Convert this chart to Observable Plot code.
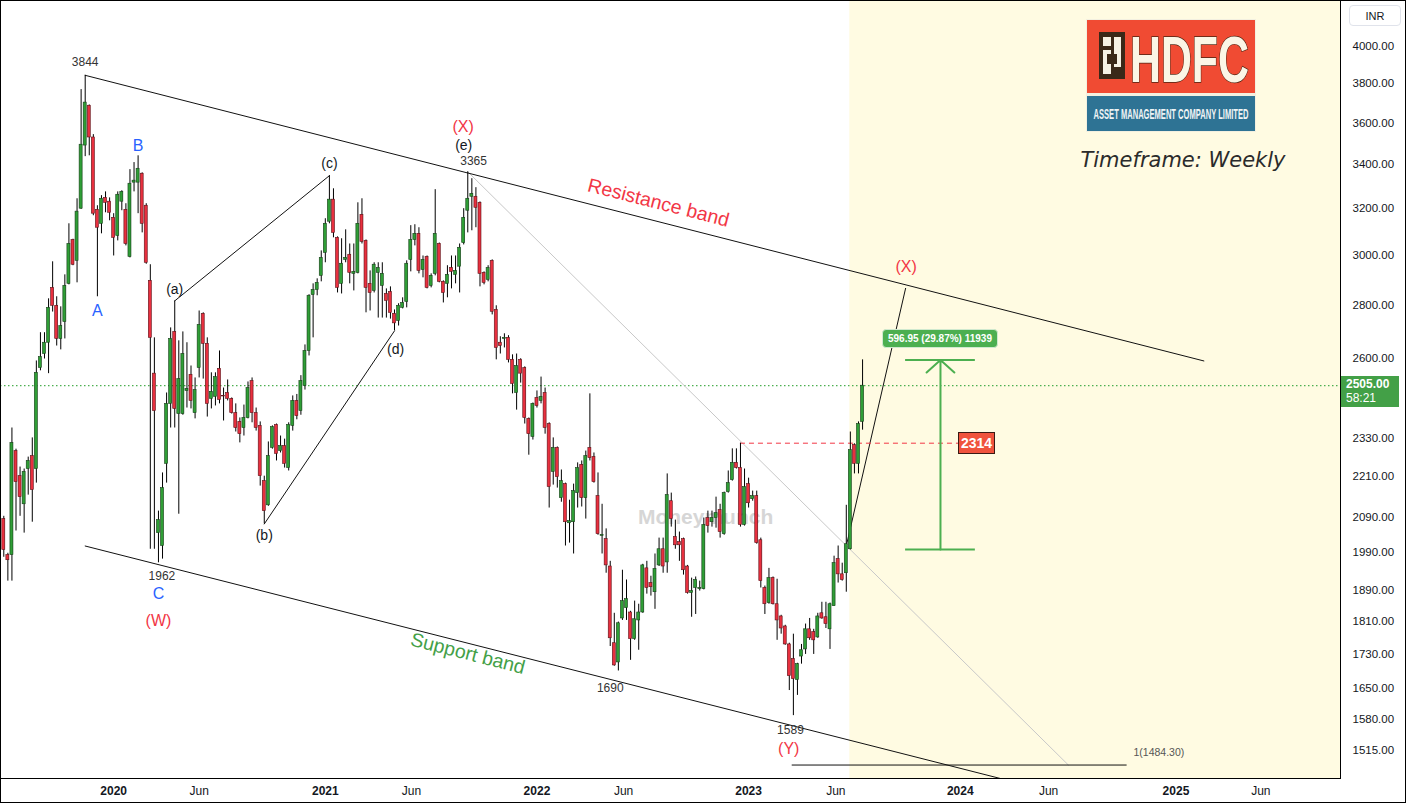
<!DOCTYPE html>
<html><head><meta charset="utf-8">
<script src="https://cdn.jsdelivr.net/npm/d3@7"></script>
<script src="https://cdn.jsdelivr.net/npm/@observablehq/plot@0.6"></script>
<style>
html,body{margin:0;padding:0;background:#fff;}
#chart{position:relative;width:1406px;height:803px;overflow:hidden;font-family:'Liberation Sans',Arial,sans-serif;}
#chart svg{display:block;}
.ov{position:absolute;box-sizing:border-box;}
</style></head><body><div id="chart"></div>
<script>
// ---------------- DATA ----------------
const candleStart = "2019-07-01"; // first weekly bar (Monday)
const open = [
2084,1983,1983,2289,2211,2127,2233,2273,2233,2567,
2617,2658,2867,2797,2672,2735,2883,3063,2976,3198,
3489,3686,3528,3193,3132,3246,3229,3158,3080,3229,
3193,2992,3315,3315,3356,3211,2895,2547,2044,2008,
2249,2443,2698,2409,2409,2487,2543,2412,2567,2766,
2654,2460,2467,2564,2470,2480,2460,2412,2383,2363,
2396,2521,2412,2370,2196,2124,2299,2373,2289,2305,
2236,2370,2453,2419,2504,2628,2839,2859,2915,3009,
3141,3238,3072,2883,2980,3001,2923,2927,3171,3059,
2883,2855,2927,2875,2843,2851,2766,2739,2789,2812,
2980,3063,3089,2939,2992,2875,2923,3046,2891,2883,
2947,2919,2952,3050,3189,3251,3251,3224,2927,2899,
2976,2781,2658,2672,2676,2596,2480,2596,2567,2393,
2334,2463,2453,2480,2376,2224,2299,2145,2187,2072,
2075,2160,2246,2145,2299,2270,2151,2036,2027,1952,
1756,1710,1817,1843,1832,1766,1812,1832,1947,1908,
1884,1955,1999,1963,2136,2033,2019,2027,1952,1882,
1895,1892,1892,2087,2075,2087,2110,2041,2163,2199,
2252,2236,2067,2187,2142,2151,2024,1895,1856,1921,
1853,1822,1797,1753,1718,1669,1724,1741,1790,1783,
1770,1830,1820,1790,1848,1972,1931,1934,1999,2308,
2249,2383];
const high = [
2092,1988,2363,2295,2239,2233,2270,2331,2592,2695,
2695,2824,2972,2832,2793,2919,3132,3066,3242,3769,
3844,3690,3542,3211,3256,3273,3246,3176,3273,3278,
3220,3375,3408,3440,3360,3220,2960,2676,2107,2221,
2480,2713,2816,2665,2698,2658,2574,2532,2777,2770,
2676,2550,2550,2628,2497,2525,2463,2443,2396,2439,
2518,2532,2429,2383,2211,2318,2370,2376,2337,2327,
2380,2470,2475,2540,2650,2840,2883,2903,3017,3154,
3347,3287,3076,3068,3106,3046,3046,3224,3242,3063,
2935,2968,2968,2968,2863,2871,2781,2805,2828,2976,
3124,3128,3115,2996,2996,2923,3283,3050,2895,2956,
2996,2996,3046,3198,3365,3333,3292,3228,2931,2956,
2980,2797,2680,2691,2684,2614,2617,2600,2571,2396,
2446,2487,2535,2497,2380,2331,2302,2230,2190,2139,
2187,2252,2258,2289,2477,2283,2221,2127,2056,1966,
1830,1808,1942,1916,1835,1861,1853,1958,1966,1926,
1986,2030,2030,2218,2160,2081,2047,2030,1955,1921,
1924,1913,2087,2107,2107,2148,2127,2163,2227,2296,
2296,2314,2233,2205,2166,2166,2030,1900,1947,1924,
1918,1825,1800,1756,1778,1708,1753,1803,1817,1790,
1830,1858,1858,1856,1980,2008,1961,2124,2350,2312,
2383,2596];
const low = [
1977,1913,1913,2050,2092,2044,2154,2075,2190,2557,
2599,2547,2773,2646,2632,2672,2879,2956,2887,3195,
3436,3440,3167,2832,3089,3180,3145,2996,3059,3189,
3038,2988,3273,3176,3093,2962,1999,1999,1962,1972,
2190,2363,2363,2098,2405,2429,2426,2393,2532,2528,
2399,2426,2436,2443,2386,2453,2409,2350,2315,2337,
2393,2380,2353,2181,2070,2121,2295,2258,2283,2236,
2227,2353,2390,2405,2490,2610,2676,2836,2891,2968,
3132,3072,2847,2843,2968,2883,2855,2923,3046,2770,
2777,2847,2750,2750,2750,2746,2702,2720,2785,2789,
2931,3038,2923,2907,2863,2867,2915,2887,2808,2828,
2863,2883,2847,3042,3093,3102,3115,2871,2879,2891,
2762,2596,2617,2639,2585,2477,2422,2514,2376,2276,
2324,2429,2443,2343,2116,2184,2175,2133,2008,2016,
1986,2116,2119,2084,2258,2190,2038,1986,1934,1748,
1701,1690,1812,1812,1715,1763,1739,1830,1879,1874,
1840,1952,1934,1934,2061,1999,1966,1929,1879,1820,
1827,1887,1890,2044,2061,2058,2030,2038,2160,2196,
2233,2061,2064,2116,2136,2013,1895,1827,1853,1851,
1763,1778,1751,1645,1589,1634,1706,1729,1763,1729,
1768,1815,1792,1741,1848,1908,1913,1884,1997,2218,
2218,2356];
const close = [
1997,1969,2315,2193,2148,2224,2258,2169,2550,2606,
2658,2789,2797,2672,2720,2875,3046,2960,3185,3493,
3702,3528,3176,3115,3242,3224,3180,3072,3260,3273,
3046,3310,3324,3379,3132,2968,2676,2419,2081,2175,
2443,2672,2426,2528,2617,2494,2453,2490,2724,2654,
2443,2484,2535,2456,2468,2460,2412,2363,2343,2396,
2497,2412,2363,2211,2107,2273,2366,2280,2305,2249,
2373,2453,2402,2521,2628,2836,2859,2887,2988,3132,
3238,3093,2867,2964,2988,2927,2931,3132,3055,2867,
2847,2960,2947,2923,2816,2770,2730,2797,2808,2964,
3063,3089,2935,2980,2867,2915,3089,2891,2847,2919,
2931,2935,3030,3158,3242,3264,3202,2923,2887,2947,
2774,2639,2646,2676,2596,2511,2574,2547,2396,2343,
2443,2436,2467,2363,2178,2299,2208,2196,2075,2078,
2166,2236,2145,2273,2267,2193,2041,2039,1955,1768,
1703,1805,1861,1866,1766,1815,1832,1955,1895,1897,
1945,1999,1952,2154,2084,2010,2010,1942,1882,1887,
1916,1895,2067,2064,2087,2101,2047,2160,2190,2252,
2236,2067,2178,2130,2151,2016,1913,1853,1921,1853,
1812,1792,1753,1678,1671,1706,1739,1790,1768,1763,
1822,1817,1803,1853,1961,1931,1916,2013,2292,2249,
2376,2505];

const yTicks = [1515,1580,1650,1730,1810,1890,1990,2090,2210,2330,2600,2800,3000,3200,3400,3600,3800,4000];
const yearTicks = ["2020-01-06","2021-01-04","2022-01-03","2023-01-02","2024-01-01","2025-01-06"];
const monthTicks = ["2020-06-01","2021-06-01","2022-06-01","2023-06-01","2024-06-01","2025-06-01"];

const lastPrice = 2505;
const resistanceLine = [{date:"2019-11-18", price:3844},{date:"2025-02-23", price:2592}];
const supportLine = [{date:"2019-11-18", price:2008},{date:"2024-03-10", price:1457}];
const breakLine = [{date:"2021-09-06", price:3365},{date:"2024-07-05", price:1484.3}];
const waveAC = [{date:"2020-04-20", price:2816},{date:"2021-01-11", price:3347}];
const waveBD = [{date:"2020-09-21", price:2070},{date:"2021-05-03", price:2702}];
const projection = [{date:"2023-06-19", price:2008},{date:"2023-09-29", price:2865}];
const level2314 = [{price:2314, from:"2022-12-19", to:"2023-12-29"}];
const level1484 = [{price:1484.3, from:"2023-03-18", to:"2024-10-14"}];
const measure = {date:"2023-11-28", from:1998.55, to:2595.5, left:"2023-09-29", right:"2024-01-27"};
const forecastZone = [{from:"2023-06-25", to:"2025-10-16"}];

const blackLabels = [
  {date:"2020-04-20", price:2859, text:"(a)"},
  {date:"2020-09-21", price:2036, text:"(b)"},
  {date:"2021-01-11", price:3403, text:"(c)"},
  {date:"2021-05-05", price:2632, text:"(d)"},
  {date:"2021-08-30", price:3488, text:"(e)"}
];
const priceLabels = [
  {date:"2019-11-18", price:3917, text:"3844"},
  {date:"2020-03-29", price:1926, text:"1962"},
  {date:"2021-09-16", price:3417, text:"3365"},
  {date:"2022-05-09", price:1650, text:"1690"},
  {date:"2023-03-15", price:1558, text:"1589"}
];
const blueLabels = [
  {date:"2019-12-09", price:2777, text:"A"},
  {date:"2020-02-17", price:3488, text:"B"},
  {date:"2020-03-23", price:1879, text:"C"}
];
const redLabels = [
  {date:"2020-03-23", price:1812, text:"(W)"},
  {date:"2021-08-29", price:3582, text:"(X)"},
  {date:"2023-09-30", price:2951, text:"(X)"},
  {date:"2023-03-12", price:1518, text:"(Y)"}
];
const bandLabels = [
  {date:"2022-07-31", price:3224, text:"Resistance band", color:"#f23645"},
  {date:"2021-09-06", price:1731, text:"Support band", color:"#43a047"}
];
const fibLabel = [{date:"2024-10-25", price:1509, text:"1(1484.30)"}];
const watermark = [{date:"2022-10-20", price:2090, text:"Moneymunch"}];

// ---------------- BUILD ----------------
const D = s => new Date(s + "T00:00:00Z");
const start = D(candleStart);
const candles = open.map((o, i) => ({
  date: d3.utcDay.offset(start, 7 * i),
  open: o, high: high[i], low: low[i], close: close[i]
}));
const pts = arr => arr.map(d => ({...d, date: D(d.date)}));
const FONT = "'Liberation Sans', Arial, sans-serif";
const UP = "#2f9e36", DOWN = "#e8303f", GREEN = "#4caf50";

const chart = Plot.plot({
  width: 1406, height: 803,
  marginLeft: 0, marginRight: 66, marginTop: 0, marginBottom: 25,
  style: {fontFamily: FONT, fontSize: "12px", color: "#131722", background: "transparent", overflow: "visible"},
  x: {type: "utc", domain: [new Date(Date.UTC(2019,5,25,8)), D("2025-10-16")]},
  y: {type: "log", domain: [1457, 4262]},
  marks: [
    Plot.rect(forecastZone, {x1: d => D(d.from), x2: d => D(d.to), fill: "#fffbe2"}),
    Plot.text(pts(watermark), {x: "date", y: "price", text: "text", fill: "#d6d6d6", fontSize: 21, fontWeight: "bold"}),
    Plot.ruleY([lastPrice], {stroke: GREEN, strokeDasharray: "1.5,2.5", strokeWidth: 1.2}),
    Plot.line(pts(breakLine), {x: "date", y: "price", stroke: "#c8c8c8", strokeWidth: 1}),
    Plot.line(pts(resistanceLine), {x: "date", y: "price", stroke: "#111", strokeWidth: 1}),
    Plot.line(pts(supportLine), {x: "date", y: "price", stroke: "#111", strokeWidth: 1, clip: true}),
    Plot.line(pts(waveAC), {x: "date", y: "price", stroke: "#111", strokeWidth: 1}),
    Plot.line(pts(waveBD), {x: "date", y: "price", stroke: "#111", strokeWidth: 1}),
    Plot.line(pts(projection), {x: "date", y: "price", stroke: "#111", strokeWidth: 1}),
    Plot.ruleY(level2314, {y: "price", x1: d => D(d.from), x2: d => D(d.to), stroke: "#f23645", strokeDasharray: "5,4"}),
    Plot.ruleY(level1484, {y: "price", x1: d => D(d.from), x2: d => D(d.to), stroke: "#111"}),
    // candles
    Plot.ruleX(candles, {x: "date", y1: "low", y2: "high", stroke: "#000", strokeWidth: 1}),
    Plot.rect(candles, {filter: d => d.close >= d.open, x1: d => d3.utcHour.offset(d.date, -62), x2: d => d3.utcHour.offset(d.date, 62),
      y1: "open", y2: "close", fill: UP, stroke: "#143d17", strokeWidth: 0.6}),
    Plot.rect(candles, {filter: d => d.close < d.open, x1: d => d3.utcHour.offset(d.date, -62), x2: d => d3.utcHour.offset(d.date, 62),
      y1: "open", y2: "close", fill: DOWN, stroke: "#5a1016", strokeWidth: 0.6}),
    // measurement
    Plot.ruleY([measure.from, measure.to], {x1: D(measure.left), x2: D(measure.right), stroke: GREEN, strokeWidth: 2}),
    Plot.arrow([measure], {x1: d => D(d.date), x2: d => D(d.date), y1: "from", y2: "to", stroke: GREEN, strokeWidth: 2, headAngle: 96, headLength: 14}),
    // labels
    Plot.text(pts(blackLabels), {x: "date", y: "price", text: "text", fill: "#131722", fontSize: 14}),
    Plot.text(pts(priceLabels), {x: "date", y: "price", text: "text", fill: "#333", fontSize: 12}),
    Plot.text(pts(blueLabels), {x: "date", y: "price", text: "text", fill: "#2962ff", fontSize: 16}),
    Plot.text(pts(redLabels), {x: "date", y: "price", text: "text", fill: "#f23645", fontSize: 16}),
    Plot.text(pts(bandLabels), {x: "date", y: "price", text: "text", fill: "color", fontSize: 19.5, rotate: 14.3}),
    Plot.text(pts(fibLabel), {x: "date", y: "price", text: "text", fill: "#555", fontSize: 10.5, textAnchor: "start"}),
    // axes
    Plot.axisY(yTicks, {anchor: "right", tickSize: 0, tickPadding: 12, tickFormat: d => d.toFixed(2), fontSize: 11.5, label: null, fill: "#131722"}),
    Plot.axisX(yearTicks.map(D), {tickSize: 0, tickPadding: 8, tickFormat: d3.utcFormat("%Y"), fontSize: 12, fontWeight: "bold", label: null, fill: "#131722"}),
    Plot.axisX(monthTicks.map(D), {tickSize: 0, tickPadding: 8, tickFormat: d3.utcFormat("%b"), fontSize: 12, label: null, fill: "#131722"}),
    Plot.frame({stroke: "#000"})
  ]
});
const root = document.getElementById("chart");
root.appendChild(chart);

const sx = chart.scale("x"), sy = chart.scale("y");
function box(left, top, w, h, css, html) {
  const el = document.createElement("div");
  el.className = "ov";
  el.style.cssText += `left:${left}px;top:${top}px;width:${w}px;height:${h}px;` + css;
  el.innerHTML = html;
  root.appendChild(el);
  return el;
}
// 2314 tag
box(sx.apply(D(level2314[0].to)), sy.apply(level2314[0].price) - 11, 37, 22,
  "background:#f0533d;border:1px solid #3a1a14;color:#fff;font:bold 14px 'Liberation Sans',Arial;display:flex;align-items:center;justify-content:center;",
  "2314");
// measurement label
const mx = sx.apply(D(measure.date));
box(mx - 58, sy.apply(measure.to) - 30, 116, 19,
  "background:#4caf50;border:1px solid #cfe9cf;border-radius:4px;color:#fff;font:bold 10px 'Liberation Sans',Arial;display:flex;align-items:center;justify-content:center;white-space:nowrap;",
  "596.95 (29.87%) 11939");
// last price label on axis
box(1341, sy.apply(lastPrice) - 9, 58, 31,
  "background:#43a047;color:#fff;font:bold 12px 'Liberation Sans',Arial;padding:1px 0 0 5px;line-height:14px;",
  "2505.00<br><span style='font-weight:normal'>58:21</span>");
// currency box
box(1349, 5, 52, 21,
  "border:1px solid #e0e3eb;border-radius:4px;color:#131722;font:11px 'Liberation Sans',Arial;display:flex;align-items:center;justify-content:center;background:#fff;",
  "INR");
// logo
const logo = box(1086, 19, 171, 114, "", `
<svg width="171" height="114" viewBox="0 0 171 114">
 <rect x="0" y="0" width="170" height="113" fill="#f3f0e0"/>
 <rect x="1" y="1" width="168" height="73" fill="#f04b33"/>
 <rect x="1" y="77" width="168" height="35" fill="#2e7394"/>
 <rect x="13" y="13" width="26" height="47" fill="#3a2818"/>
 <rect x="17" y="18" width="8" height="9" fill="#f6f1e4"/>
 <rect x="28" y="18" width="7" height="30" fill="#f6f1e4"/>
 <rect x="17" y="31" width="8" height="24" fill="#f6f1e4"/>
 <rect x="21" y="35" width="10" height="10" fill="#3a2818"/>
 <text data-fit="119" x="44" y="63" font-family="'Liberation Sans',Arial" font-weight="bold" font-size="64" fill="#fbf6e6" stroke="#4a2210" stroke-width="1.4" paint-order="stroke">HDFC</text>
 <text data-fit="155" x="85" y="100" text-anchor="middle" font-family="'Liberation Sans',Arial" font-weight="bold" font-size="14" fill="#eef3f5">ASSET MANAGEMENT COMPANY LIMITED</text>
</svg>`);
for (const t of logo.querySelectorAll("text[data-fit]")) {
  const w = t.getComputedTextLength();
  const s = (+t.dataset.fit) / w;
  const cx = +t.getAttribute("x");
  t.setAttribute("transform", `translate(${cx},0) scale(${s},1) translate(${-cx},0)`);
}
// timeframe
box(1060, 144, 246, 32,
  "font:italic 21px 'DejaVu Sans',Verdana,sans-serif;color:#2b2b2b;text-align:center;line-height:32px;",
  "Timeframe: Weekly");
// outer border
box(0, 0, 1406, 803, "border:1px solid #000;pointer-events:none;", "");
</script></body></html>
